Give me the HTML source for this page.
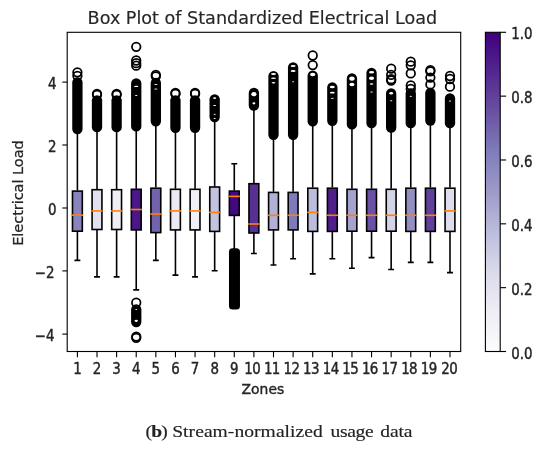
<!DOCTYPE html>
<html><head><meta charset="utf-8"><title>Box Plot of Standardized Electrical Load</title>
<style>html,body{margin:0;padding:0;background:#fff}body{width:550px;height:449px;position:relative;overflow:hidden}</style></head>
<body>
<svg width="550" height="449" viewBox="0 0 550 449" style="position:absolute;left:0;top:0">
<defs><linearGradient id="pg" x1="0" y1="1" x2="0" y2="0">
<stop offset="0.0000" stop-color="#fcfbfd"/>
<stop offset="0.1250" stop-color="#efedf5"/>
<stop offset="0.2500" stop-color="#dadaeb"/>
<stop offset="0.3750" stop-color="#bcbddc"/>
<stop offset="0.5000" stop-color="#9e9ac8"/>
<stop offset="0.6250" stop-color="#807dba"/>
<stop offset="0.7500" stop-color="#6a51a3"/>
<stop offset="0.8750" stop-color="#54278f"/>
<stop offset="1.0000" stop-color="#3f007d"/>
</linearGradient></defs>
<rect x="0" y="0" width="550" height="449" fill="#fff"/>
<g fill="none" stroke="#000" stroke-width="1.6">
<path d="M77.40 190.50V129.00M77.40 231.30V260.40" />
<path d="M74.45 129.00H80.35M74.45 260.40H80.35"/>
<path d="M97.01 189.10V127.20M97.01 229.60V276.90" />
<path d="M94.06 127.20H99.96M94.06 276.90H99.96"/>
<path d="M116.62 189.10V127.20M116.62 229.60V276.90" />
<path d="M113.67 127.20H119.57M113.67 276.90H119.57"/>
<path d="M136.23 188.70V126.40M136.23 230.00V289.90" />
<path d="M133.28 126.40H139.18M133.28 289.90H139.18"/>
<path d="M155.84 187.60V121.30M155.84 232.70V260.40" />
<path d="M152.89 121.30H158.79M152.89 260.40H158.79"/>
<path d="M175.45 188.70V127.80M175.45 230.00V275.10" />
<path d="M172.50 127.80H178.40M172.50 275.10H178.40"/>
<path d="M195.06 188.70V127.80M195.06 230.00V276.90" />
<path d="M192.11 127.80H198.01M192.11 276.90H198.01"/>
<path d="M214.67 186.40V116.90M214.67 231.50V270.80" />
<path d="M211.72 116.90H217.62M211.72 270.80H217.62"/>
<path d="M234.28 190.50V163.80M234.28 215.50V253.00" />
<path d="M231.33 163.80H237.23M231.33 253.00H237.23"/>
<path d="M253.89 183.10V105.60M253.89 233.10V253.50" />
<path d="M250.94 105.60H256.84M250.94 253.50H256.84"/>
<path d="M273.50 191.80V134.80M273.50 230.00V265.00" />
<path d="M270.55 134.80H276.45M270.55 265.00H276.45"/>
<path d="M293.11 191.80V134.80M293.11 230.00V258.80" />
<path d="M290.16 134.80H296.06M290.16 258.80H296.06"/>
<path d="M312.72 187.60V121.30M312.72 231.50V273.90" />
<path d="M309.77 121.30H315.67M309.77 273.90H315.67"/>
<path d="M332.33 187.60V120.80M332.33 231.50V258.80" />
<path d="M329.38 120.80H335.28M329.38 258.80H335.28"/>
<path d="M351.94 188.70V124.40M351.94 231.30V268.30" />
<path d="M348.99 124.40H354.89M348.99 268.30H354.89"/>
<path d="M371.55 188.70V123.20M371.55 231.30V257.60" />
<path d="M368.60 123.20H374.50M368.60 257.60H374.50"/>
<path d="M391.16 188.70V127.70M391.16 231.30V269.50" />
<path d="M388.21 127.70H394.11M388.21 269.50H394.11"/>
<path d="M410.77 187.60V123.20M410.77 231.50V262.40" />
<path d="M407.82 123.20H413.72M407.82 262.40H413.72"/>
<path d="M430.38 187.60V120.60M430.38 231.50V262.40" />
<path d="M427.43 120.60H433.33M427.43 262.40H433.33"/>
<path d="M449.99 187.60V123.20M449.99 231.50V272.60" />
<path d="M447.04 123.20H452.94M447.04 272.60H452.94"/>
</g>
<g stroke="#000" stroke-width="1.6" stroke-linejoin="miter">
<rect x="72.48" y="191.10" width="9.84" height="40.10" fill="#8683bd"/>
<rect x="92.09" y="189.70" width="9.84" height="39.80" fill="#e2e2ef"/>
<rect x="111.70" y="189.70" width="9.84" height="39.80" fill="#f0eef5"/>
<rect x="131.31" y="189.30" width="9.84" height="40.60" fill="#4b1687"/>
<rect x="150.92" y="188.20" width="9.84" height="44.40" fill="#7363ac"/>
<rect x="170.53" y="189.30" width="9.84" height="40.60" fill="#ebe9f3"/>
<rect x="190.14" y="189.30" width="9.84" height="40.60" fill="#f2f0f7"/>
<rect x="209.75" y="187.00" width="9.84" height="44.40" fill="#c2c3df"/>
<rect x="229.36" y="191.10" width="9.84" height="24.30" fill="#440981"/>
<rect x="248.97" y="183.70" width="9.84" height="49.30" fill="#582f93"/>
<rect x="268.58" y="192.40" width="9.84" height="37.50" fill="#b1b0d5"/>
<rect x="288.19" y="192.40" width="9.84" height="37.50" fill="#7f7bb9"/>
<rect x="307.80" y="188.20" width="9.84" height="43.20" fill="#bcbddc"/>
<rect x="327.41" y="188.20" width="9.84" height="43.20" fill="#501f8b"/>
<rect x="347.02" y="189.30" width="9.84" height="41.90" fill="#a5a2cd"/>
<rect x="366.63" y="189.30" width="9.84" height="41.90" fill="#6a51a3"/>
<rect x="386.24" y="189.30" width="9.84" height="41.90" fill="#d3d3e7"/>
<rect x="405.85" y="188.20" width="9.84" height="43.20" fill="#928ec2"/>
<rect x="425.46" y="188.20" width="9.84" height="43.20" fill="#61409b"/>
<rect x="445.07" y="188.20" width="9.84" height="43.20" fill="#dddded"/>
</g>
<g stroke="#ff7f0e" stroke-width="1.6" fill="none">
<path d="M71.78 215.10H83.02"/>
<path d="M91.39 210.90H102.63"/>
<path d="M111.00 210.90H122.24"/>
<path d="M130.61 209.50H141.85"/>
<path d="M150.22 214.00H161.46"/>
<path d="M169.83 210.90H181.07"/>
<path d="M189.44 210.90H200.68"/>
<path d="M209.05 212.40H220.29"/>
<path d="M228.66 196.40H239.90"/>
<path d="M248.27 224.00H259.51"/>
<path d="M267.88 215.30H279.12"/>
<path d="M287.49 215.30H298.73"/>
<path d="M307.10 212.40H318.34"/>
<path d="M326.71 215.30H337.95"/>
<path d="M346.32 215.30H357.56"/>
<path d="M365.93 215.30H377.17"/>
<path d="M385.54 215.30H396.78"/>
<path d="M405.15 215.30H416.39"/>
<path d="M424.76 215.30H436.00"/>
<path d="M444.37 210.90H455.61"/>
</g>
<g fill="none" stroke="#000" stroke-width="1.75">
<circle cx="77.40" cy="72.30" r="4.28"/>
<circle cx="77.40" cy="75.80" r="4.28"/>
<path d="M77.40 82.30V129.00" stroke-width="10.31" stroke-linecap="round"/>
<circle cx="97.01" cy="93.80" r="4.28"/>
<circle cx="97.01" cy="94.80" r="4.28"/>
<path d="M97.01 100.30V127.20" stroke-width="10.31" stroke-linecap="round"/>
<circle cx="116.62" cy="93.80" r="4.28"/>
<circle cx="116.62" cy="94.80" r="4.28"/>
<path d="M116.62 100.30V127.20" stroke-width="10.31" stroke-linecap="round"/>
<circle cx="136.23" cy="46.80" r="4.28"/>
<circle cx="136.23" cy="60.50" r="4.28"/>
<circle cx="136.23" cy="63.20" r="4.28"/>
<circle cx="136.23" cy="65.70" r="4.28"/>
<path d="M136.23 83.50V126.40" stroke-width="10.31" stroke-linecap="round"/>
<circle cx="155.84" cy="74.80" r="4.28"/>
<circle cx="155.84" cy="76.30" r="4.28"/>
<path d="M155.84 83.00V121.30" stroke-width="10.31" stroke-linecap="round"/>
<circle cx="175.45" cy="93.00" r="4.28"/>
<circle cx="175.45" cy="94.00" r="4.28"/>
<path d="M175.45 100.30V127.80" stroke-width="10.31" stroke-linecap="round"/>
<circle cx="195.06" cy="93.00" r="4.28"/>
<circle cx="195.06" cy="94.00" r="4.28"/>
<path d="M195.06 100.30V127.80" stroke-width="10.31" stroke-linecap="round"/>
<path d="M214.67 99.30V117.00" stroke-width="10.31" stroke-linecap="round"/>
<path d="M253.89 93.00V105.70" stroke-width="10.31" stroke-linecap="round"/>
<path d="M273.50 76.10V134.80" stroke-width="10.31" stroke-linecap="round"/>
<path d="M293.11 67.50V134.80" stroke-width="10.31" stroke-linecap="round"/>
<circle cx="312.72" cy="55.50" r="4.28"/>
<circle cx="312.72" cy="65.10" r="4.28"/>
<path d="M312.72 75.70V121.30" stroke-width="10.31" stroke-linecap="round"/>
<path d="M332.33 87.50V120.80" stroke-width="10.31" stroke-linecap="round"/>
<path d="M351.94 78.50V124.40" stroke-width="10.31" stroke-linecap="round"/>
<path d="M371.55 73.00V123.20" stroke-width="10.31" stroke-linecap="round"/>
<circle cx="391.16" cy="68.70" r="4.28"/>
<circle cx="391.16" cy="74.90" r="4.28"/>
<circle cx="391.16" cy="79.20" r="4.28"/>
<circle cx="391.16" cy="80.50" r="4.28"/>
<path d="M391.16 93.40V127.70" stroke-width="10.31" stroke-linecap="round"/>
<circle cx="410.77" cy="61.70" r="4.28"/>
<circle cx="410.77" cy="65.30" r="4.28"/>
<circle cx="410.77" cy="73.40" r="4.28"/>
<circle cx="410.77" cy="85.40" r="4.28"/>
<circle cx="410.77" cy="89.00" r="4.28"/>
<path d="M410.77 93.50V123.20" stroke-width="10.31" stroke-linecap="round"/>
<circle cx="430.38" cy="70.20" r="4.28"/>
<circle cx="430.38" cy="71.30" r="4.28"/>
<circle cx="430.38" cy="77.60" r="4.28"/>
<circle cx="430.38" cy="84.40" r="4.28"/>
<path d="M430.38 92.80V120.60" stroke-width="10.31" stroke-linecap="round"/>
<circle cx="449.99" cy="76.00" r="4.28"/>
<circle cx="449.99" cy="79.00" r="4.28"/>
<circle cx="449.99" cy="86.70" r="4.28"/>
<path d="M449.99 98.50V123.20" stroke-width="10.31" stroke-linecap="round"/>
<circle cx="136.23" cy="302.70" r="4.28"/>
<circle cx="136.23" cy="336.60" r="4.28"/>
<circle cx="136.23" cy="337.80" r="4.28"/>
<path d="M136.23 309.50V322.00" stroke-width="10.31" stroke-linecap="round"/>
</g>
<rect x="228.98" y="248.2" width="11" height="61.4" rx="3.6" ry="3.6" fill="#000"/>
<g fill="#fff"><ellipse cx="136.23" cy="86.40" rx="2.20" ry="0.60"/><ellipse cx="136.23" cy="95.50" rx="1.30" ry="0.60"/><ellipse cx="155.84" cy="84.50" rx="1.60" ry="0.50"/><ellipse cx="155.84" cy="89.00" rx="1.60" ry="0.50"/><ellipse cx="214.67" cy="98.10" rx="1.60" ry="0.90"/><ellipse cx="214.67" cy="105.50" rx="1.60" ry="0.55"/><ellipse cx="214.67" cy="114.20" rx="1.10" ry="0.50"/><ellipse cx="214.67" cy="118.50" rx="1.10" ry="0.50"/><ellipse cx="253.89" cy="94.20" rx="2.60" ry="2.10"/><ellipse cx="253.89" cy="103.30" rx="1.50" ry="1.10"/><ellipse cx="273.50" cy="74.00" rx="2.50" ry="0.90"/><ellipse cx="273.50" cy="78.20" rx="2.50" ry="0.80"/><ellipse cx="273.50" cy="82.70" rx="1.90" ry="0.80"/><ellipse cx="293.11" cy="66.00" rx="2.50" ry="0.90"/><ellipse cx="293.11" cy="71.00" rx="2.50" ry="0.90"/><ellipse cx="293.11" cy="81.80" rx="1.00" ry="0.50"/><ellipse cx="312.72" cy="74.50" rx="2.70" ry="1.80"/><ellipse cx="332.33" cy="87.00" rx="2.50" ry="1.30"/><ellipse cx="332.33" cy="92.70" rx="2.40" ry="0.90"/><ellipse cx="332.33" cy="98.20" rx="1.40" ry="0.55"/><ellipse cx="351.94" cy="78.60" rx="2.70" ry="2.20"/><ellipse cx="351.94" cy="84.50" rx="2.60" ry="1.80"/><ellipse cx="371.55" cy="72.30" rx="2.60" ry="1.30"/><ellipse cx="371.55" cy="78.20" rx="2.60" ry="1.80"/><ellipse cx="371.55" cy="84.00" rx="1.90" ry="0.80"/><ellipse cx="371.55" cy="92.00" rx="1.30" ry="0.50"/><ellipse cx="391.16" cy="93.20" rx="1.90" ry="1.30"/><ellipse cx="391.16" cy="100.70" rx="1.20" ry="0.50"/><ellipse cx="410.77" cy="96.20" rx="1.20" ry="0.50"/><ellipse cx="449.99" cy="101.00" rx="1.20" ry="0.50"/><ellipse cx="136.23" cy="309.60" rx="1.00" ry="0.50"/><ellipse cx="136.23" cy="320.80" rx="1.70" ry="1.10"/></g>
<rect x="67.20" y="32.30" width="393.50" height="319.20" fill="none" stroke="#000" stroke-width="1.11"/>
<g stroke="#000" stroke-width="1.11" fill="none">
<path d="M77.40 351.50v5.8"/>
<path d="M97.01 351.50v5.8"/>
<path d="M116.62 351.50v5.8"/>
<path d="M136.23 351.50v5.8"/>
<path d="M155.84 351.50v5.8"/>
<path d="M175.45 351.50v5.8"/>
<path d="M195.06 351.50v5.8"/>
<path d="M214.67 351.50v5.8"/>
<path d="M234.28 351.50v5.8"/>
<path d="M253.89 351.50v5.8"/>
<path d="M273.50 351.50v5.8"/>
<path d="M293.11 351.50v5.8"/>
<path d="M312.72 351.50v5.8"/>
<path d="M332.33 351.50v5.8"/>
<path d="M351.94 351.50v5.8"/>
<path d="M371.55 351.50v5.8"/>
<path d="M391.16 351.50v5.8"/>
<path d="M410.77 351.50v5.8"/>
<path d="M430.38 351.50v5.8"/>
<path d="M449.99 351.50v5.8"/>
<path d="M67.20 82.10h-4.86"/>
<path d="M67.20 145.00h-4.86"/>
<path d="M67.20 208.00h-4.86"/>
<path d="M67.20 270.90h-4.86"/>
<path d="M67.20 334.10h-4.86"/>
</g>
<rect x="485.40" y="32.30" width="14.80" height="319.20" fill="url(#pg)" stroke="#000" stroke-width="1.11"/>
<g stroke="#000" stroke-width="1.11" fill="none">
<path d="M500.20 351.50h5.9"/>
<path d="M500.20 287.66h5.9"/>
<path d="M500.20 223.82h5.9"/>
<path d="M500.20 159.98h5.9"/>
<path d="M500.20 96.14h5.9"/>
<path d="M500.20 32.30h5.9"/>
</g>
<g font-family="DejaVu Sans, Liberation Sans, sans-serif" fill="#262626" stroke="#262626" stroke-width="0.4">
<text transform="translate(262.40 24.40) scale(1 1.000)" font-size="17.60" text-anchor="middle" textLength="349.6" lengthAdjust="spacing" stroke-width="0.15">Box Plot of Standardized Electrical Load</text>
<text transform="translate(77.40 374.30) scale(1 1.120)" font-size="13.40" text-anchor="middle">1</text>
<text transform="translate(97.01 374.30) scale(1 1.120)" font-size="13.40" text-anchor="middle">2</text>
<text transform="translate(116.62 374.30) scale(1 1.120)" font-size="13.40" text-anchor="middle">3</text>
<text transform="translate(136.23 374.30) scale(1 1.120)" font-size="13.40" text-anchor="middle">4</text>
<text transform="translate(155.84 374.30) scale(1 1.120)" font-size="13.40" text-anchor="middle">5</text>
<text transform="translate(175.45 374.30) scale(1 1.120)" font-size="13.40" text-anchor="middle">6</text>
<text transform="translate(195.06 374.30) scale(1 1.120)" font-size="13.40" text-anchor="middle">7</text>
<text transform="translate(214.67 374.30) scale(1 1.120)" font-size="13.40" text-anchor="middle">8</text>
<text transform="translate(234.28 374.30) scale(1 1.120)" font-size="13.40" text-anchor="middle">9</text>
<text transform="translate(252.19 374.30) scale(1 1.120)" font-size="13.40" text-anchor="middle" letter-spacing="-0.60">10</text>
<text transform="translate(271.80 374.30) scale(1 1.120)" font-size="13.40" text-anchor="middle" letter-spacing="-0.60">11</text>
<text transform="translate(291.41 374.30) scale(1 1.120)" font-size="13.40" text-anchor="middle" letter-spacing="-0.60">12</text>
<text transform="translate(311.02 374.30) scale(1 1.120)" font-size="13.40" text-anchor="middle" letter-spacing="-0.60">13</text>
<text transform="translate(330.63 374.30) scale(1 1.120)" font-size="13.40" text-anchor="middle" letter-spacing="-0.60">14</text>
<text transform="translate(350.24 374.30) scale(1 1.120)" font-size="13.40" text-anchor="middle" letter-spacing="-0.60">15</text>
<text transform="translate(369.85 374.30) scale(1 1.120)" font-size="13.40" text-anchor="middle" letter-spacing="-0.60">16</text>
<text transform="translate(389.46 374.30) scale(1 1.120)" font-size="13.40" text-anchor="middle" letter-spacing="-0.60">17</text>
<text transform="translate(409.07 374.30) scale(1 1.120)" font-size="13.40" text-anchor="middle" letter-spacing="-0.60">18</text>
<text transform="translate(428.68 374.30) scale(1 1.120)" font-size="13.40" text-anchor="middle" letter-spacing="-0.60">19</text>
<text transform="translate(449.19 374.30) scale(1 1.120)" font-size="13.40" text-anchor="middle" letter-spacing="-0.60">20</text>
<text transform="translate(56.60 88.80) scale(1 1.120)" font-size="13.40" text-anchor="end">4</text>
<text transform="translate(56.60 151.70) scale(1 1.120)" font-size="13.40" text-anchor="end">2</text>
<text transform="translate(56.60 214.70) scale(1 1.120)" font-size="13.40" text-anchor="end">0</text>
<text transform="translate(54.60 277.60) scale(1 1.120)" font-size="13.40" text-anchor="end">−2</text>
<text transform="translate(54.60 340.80) scale(1 1.120)" font-size="13.40" text-anchor="end">−4</text>
<text transform="translate(511.20 358.50) scale(1 1.120)" font-size="13.40">0.0</text>
<text transform="translate(511.20 294.66) scale(1 1.120)" font-size="13.40">0.2</text>
<text transform="translate(511.20 230.82) scale(1 1.120)" font-size="13.40">0.4</text>
<text transform="translate(511.20 166.98) scale(1 1.120)" font-size="13.40">0.6</text>
<text transform="translate(511.20 103.14) scale(1 1.120)" font-size="13.40">0.8</text>
<text transform="translate(511.20 39.30) scale(1 1.120)" font-size="13.40">1.0</text>
<text transform="translate(262.90 394.40) scale(1 1.070)" font-size="13.89" text-anchor="middle">Zones</text>
<text transform="translate(23.40 193.00) rotate(-90) scale(1 1.000)" font-size="14.60" text-anchor="middle" textLength="105.6" lengthAdjust="spacing" stroke-width="0.25">Electrical Load</text>
</g>
<text transform="translate(145.6 436.6) scale(1.165 1)" font-family="Liberation Serif, DejaVu Serif, serif" font-size="16.8" fill="#222" stroke="#222" stroke-width="0.15"><tspan x="0" letter-spacing="-0.8">(<tspan font-weight="bold">b</tspan>)</tspan> <tspan x="22.83" textLength="129.27" lengthAdjust="spacing">Stream-normalized</tspan> <tspan x="158.63" textLength="37.25" lengthAdjust="spacing">usage</tspan> <tspan x="201.46" textLength="27.64" lengthAdjust="spacing">data</tspan></text>
</svg>
</body></html>
